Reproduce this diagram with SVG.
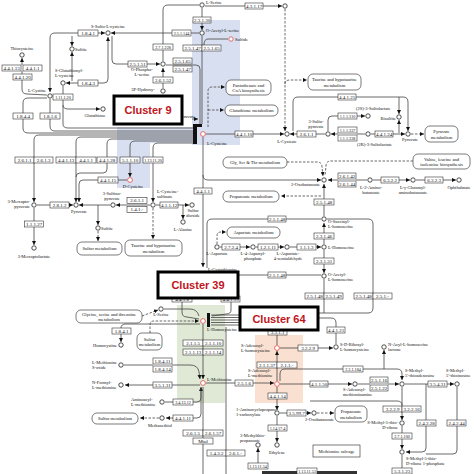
<svg xmlns="http://www.w3.org/2000/svg" width="474" height="474" viewBox="0 0 474 474">
<style>
.e{fill:#fff;stroke:#333;stroke-width:0.6}
.t{font-family:"Liberation Serif",serif;font-size:5px;text-anchor:middle;fill:#111}
.s{font-size:4.2px}
.c{fill:#fff;stroke:#222;stroke-width:0.8}
.r{fill:#fff;stroke:#e06060;stroke-width:0.9}
.lb{font-family:"Liberation Serif",serif;font-size:4.5px;fill:#111}
.m{text-anchor:middle}
.en{text-anchor:end}
.l{fill:none;stroke:#444;stroke-width:0.8}
.d{fill:none;stroke:#444;stroke-width:0.8;stroke-dasharray:2.5 1.5}
.mp{fill:#fff;stroke:#444;stroke-width:0.7}
.mt{font-family:"Liberation Serif",serif;font-size:4.6px;text-anchor:middle;fill:#111}
.cl{fill:#fff;stroke:#000;stroke-width:3}
.ct{font-family:"Liberation Sans",Arial,sans-serif;font-size:11px;font-weight:bold;fill:#c0141c;text-anchor:middle}
</style>
<defs>
<marker id="ar" viewBox="0 0 6 6" refX="6" refY="3" markerWidth="4" markerHeight="4" markerUnits="userSpaceOnUse" orient="auto"><path d="M0,0 L6,3 L0,6 z" fill="#111"/></marker>
</defs>
<rect width="474" height="474" fill="#fff"/>
<g id="highlights">
<rect x="192" y="20" width="48" height="125" fill="#d7dff0"/>
<rect x="117" y="127" width="85" height="16" fill="#d7dff0"/>
<rect x="117" y="127" width="33" height="61" fill="#d7dff0"/>
<rect x="177" y="305" width="48" height="98" fill="#dfe9d6"/>
<rect x="255" y="335" width="48" height="68" fill="#fae0d0"/>
</g>
<g id="connectors">
<path class="l" d="M22,65 L22,58" marker-end="url(#ar)"/>
<path class="l" d="M22,71 L22,74 M22,80 L22,89 Q22,94 27,94 L47,95"/>
<path class="l" d="M78,33 L55,33 Q50,33 50,38 L50,92" marker-end="url(#ar)"/>
<path class="l" d="M98,33 L105,33" marker-end="url(#ar)"/>
<path class="l" d="M50,99 L50,113 M50,119 L50,126 Q50,131 55,131 L193,131"/>
<path class="l" d="M47,98 L28,98 Q23,98 23,103 L23,113 M23,119 L23,128 Q23,133 28,133 L193,133"/>
<path class="l" d="M78,83 L66,83" marker-end="url(#ar)"/>
<path class="l" d="M98,83 L104,83 Q108,83 108,79 L108,37" marker-end="url(#ar)"/>
<path class="l" d="M72,36 L72,46" marker-end="url(#ar)"/>
<path class="l" d="M72,81 L72,52" marker-end="url(#ar)"/>
<path class="l" d="M63,86 L63,94 M63,100 L63,124 Q63,128 68,128 L193,128"/>
<path class="l" d="M63,105 Q63,109 68,109 L100,109" marker-end="url(#ar)"/>
<path class="l" d="M199,5 L168,5 Q163,5 163,10 L163,44 M163,50 L163,61"/>
<path class="l" d="M202,8 L202,17 M202,23 L202,30" marker-end="url(#ar)"/>
<path class="l" d="M205,6 L245,6 M263,6 L282,6" marker-end="url(#ar)"/>
<path class="d" d="M285,9 L285,131" marker-end="url(#ar)"/>
<path class="d" d="M285,84 Q285,80 290,80 L307,80" marker-end="url(#ar)"/>
<path class="l" d="M199,33 L191,33 M172,33 L111,33" marker-end="url(#ar)"/>
<path class="l" d="M112,36 L112,60 Q112,64 116,64 L128,64 M147,64 L160,64" marker-end="url(#ar)"/>
<path class="l" d="M202,36 L202,45 M202,51 L202,124"/>
<path class="l" d="M228,39 L208,39 Q204,39 204,45"/>
<path class="l" d="M166,65 L196,65 Q200,65 200,69 L200,124"/>
<path class="l" d="M163,77 L163,68" marker-end="url(#ar)"/>
<path class="l" d="M163,88 L163,83"/>
<path class="d" d="M208,127 L208,91 Q208,87 212,87 L225,87" marker-end="url(#ar)"/>
<path class="d" d="M208,110 L224,110" marker-end="url(#ar)"/>
<path class="l" d="M192,119 L198,119" marker-end="url(#ar)"/>
<path class="l" d="M206,134 L235,134 M253,134 L284,134" marker-end="url(#ar)"/>
<path class="l" d="M325,134 L316,134 M297,134 L290,134" marker-end="url(#ar)"/>
<path class="l" d="M328,131 L328,120 Q328,116 332,116 L338,116 M357,116 L365,116" marker-end="url(#ar)"/>
<path class="l" d="M365,134 L357,134 M338,134 L331,134" marker-end="url(#ar)"/>
<path class="l" d="M371,134 L375,134 M393,134 L405,134" marker-end="url(#ar)"/>
<path class="l" d="M293,131 L293,102 Q293,97 298,97 L338,97 M356,97 L403,97 Q408,97 408,102 L408,131" marker-end="url(#ar)"/>
<path class="l" d="M399,97 L399,114" marker-end="url(#ar)"/>
<path class="l" d="M399,133 L399,120" marker-end="url(#ar)"/>
<path class="d" d="M411,134 L424,134" marker-end="url(#ar)"/>
<path class="l" d="M34,157 L34,140 Q34,135 39,135 L193,135"/>
<path class="l" d="M76,157 L76,142 Q76,137 81,137 L193,137"/>
<path class="l" d="M107,157 L107,144 Q107,139 112,139 L193,139"/>
<path class="l" d="M130,157 L130,146 Q130,141 135,141 L193,141"/>
<path class="l" d="M153,157 L153,148 Q153,143 158,143 L193,143"/>
<path class="l" d="M34,163 L34,202" marker-end="url(#ar)"/>
<path class="l" d="M37,205 L50,205 M69,205 L73,205" marker-end="url(#ar)"/>
<path class="l" d="M76,163 L76,202" marker-end="url(#ar)"/>
<path class="l" d="M107,163 L107,169 Q107,173 103,173 L80,173 Q76,173 76,177"/>
<path class="l" d="M127,180 L118,180 M98,180 L83,180 Q79,180 79,184 L79,202" marker-end="url(#ar)"/>
<path class="l" d="M130,163 L130,177" marker-end="url(#ar)"/>
<path class="l" d="M153,163 L153,202" marker-end="url(#ar)"/>
<path class="l" d="M150,205 L116,205" marker-end="url(#ar)"/>
<path class="l" d="M110,205 L79,205" marker-end="url(#ar)"/>
<path class="l" d="M98,205 L98,225" marker-end="url(#ar)"/>
<path class="d" d="M98,231 L98,241" marker-end="url(#ar)"/>
<path class="d" d="M153,208 L153,239" marker-end="url(#ar)"/>
<path class="l" d="M34,208 L34,221 M34,227 L34,245" marker-end="url(#ar)"/>
<path class="l" d="M156,205 L160,205 M178,205 L189,205" marker-end="url(#ar)"/>
<path class="l" d="M183,205 L183,219" marker-end="url(#ar)"/>
<path class="l" d="M203,137 L203,188 M203,194 L203,267" marker-end="url(#ar)"/>
<path class="l" d="M203,175 Q203,180 208,180 L321,180" marker-end="url(#ar)"/>
<path class="l" d="M207,268 L207,224 Q207,219 212,219 L268,219 M286,219 L321,219 M327,219 L368,219 Q373,219 373,224 L373,293 M373,299 L373,308 Q373,313 368,313 L318,313"/>
<path class="l" d="M208,275 L268,275 M286,275 L321,275"/>
<path class="d" d="M287,162 L317,162 Q322,162 322,167 L323,176" marker-end="url(#ar)"/>
<path class="d" d="M413,161 L331,161 Q326,161 326,166 L325,176"/>
<path class="d" d="M321,196 L281,196" marker-end="url(#ar)"/>
<path class="l" d="M367,180 L356,180 M338,180 L328,180" marker-end="url(#ar)"/>
<path class="l" d="M373,180 L381,180 M399,180 L410,180" marker-end="url(#ar)"/>
<path class="l" d="M416,180 L425,180 M443,180 L456,180" marker-end="url(#ar)"/>
<path class="l" d="M324,199 L324,184" marker-end="url(#ar)"/>
<path class="l" d="M324,216 L324,205"/>
<path class="l" d="M324,233 L324,223" marker-end="url(#ar)"/>
<path class="l" d="M324,244 L324,239"/>
<path class="l" d="M324,250 L324,258 M324,264 L324,273" marker-end="url(#ar)"/>
<path class="l" d="M324,279 L324,293 M324,299 L324,313"/>
<path class="l" d="M220,247 L222,247 M240,247 L250,247" marker-end="url(#ar)"/>
<path class="l" d="M256,247 L258,247 M278,247 L284,247" marker-end="url(#ar)"/>
<path class="l" d="M290,247 L297,247 M316,247 L321,247" marker-end="url(#ar)"/>
<path class="d" d="M217,244 L217,236 Q217,232 221,232 L226,232" marker-end="url(#ar)"/>
<path class="d" d="M142,316 L158,310" marker-end="url(#ar)"/>
<path class="l" d="M164,309 L190,309 Q197,309 199,316"/>
<path class="d" d="M150,333 L150,325 Q150,321 154,321 L199,321" marker-end="url(#ar)"/>
<path class="l" d="M200,324 L126,324 Q121,324 121,328 M121,334 L121,342" marker-end="url(#ar)"/>
<path class="l" d="M182,302 L182,312 Q182,317 187,317 L199,319"/>
<path class="l" d="M231,302 L231,310 Q231,314 226,314 L212,316"/>
<path class="l" d="M240,315 L211,315 M240,317.5 L211,317.5 M240,320 L211,320 M240,322.5 L211,322.5 M240,325 L211,325"/>
<path class="l" d="M203,324 L203,340 M203,346 L203,349 M203,355 L203,379" marker-end="url(#ar)"/>
<path class="l" d="M124,365 L153,365 M172,365 L190,365 Q198,365 199,372 L200,379" marker-end="url(#ar)"/>
<path class="l" d="M200,385 L172,385 M153,385 L125,385" marker-end="url(#ar)"/>
<path class="l" d="M165,402 L173,402 M193,402 L197,402 Q201,402 201,398 L201,387" marker-end="url(#ar)"/>
<path class="d" d="M159,418 L140,418" marker-end="url(#ar)"/>
<path class="l" d="M201,388 L201,414 Q201,418 197,418 L193,418 M173,418 L166,418" marker-end="url(#ar)"/>
<path class="l" d="M203,387 L203,430 M203,436 L203,438 M203,444 L203,474"/>
<path class="l" d="M206,383 L235,383 M253,383 L274,383" marker-end="url(#ar)"/>
<path class="l" d="M226,327 L226,450 M226,456 L226,474"/>
<path class="l" d="M277,381 L277,368 M277,362 L277,351" marker-end="url(#ar)"/>
<path class="l" d="M277,345 L277,335"/>
<path class="l" d="M280,348 L298,348 M318,348 L333,348" marker-end="url(#ar)"/>
<path class="l" d="M318,318 L331,318 Q336,318 336,323 L336,327 M336,333 L336,344"/>
<path class="l" d="M280,381 L280,374 Q280,369 285,369 L343,369 M363,369 L397,369 Q402,369 402,374 L402,380" marker-end="url(#ar)"/>
<path class="l" d="M384,369 L384,350" marker-end="url(#ar)"/>
<path class="l" d="M310,401 L397,401 Q402,401 402,405"/>
<path class="l" d="M280,384 L310,384 M328,384 L352,384" marker-end="url(#ar)"/>
<path class="l" d="M358,384 L370,384 M388,384 L399,384" marker-end="url(#ar)"/>
<path class="l" d="M405,384 L428,384 M447,384 L454,384" marker-end="url(#ar)"/>
<path class="l" d="M402,387 L402,406 M402,412 L402,420" marker-end="url(#ar)"/>
<path class="l" d="M402,426 L402,433 M402,439 L402,449" marker-end="url(#ar)"/>
<path class="l" d="M402,455 L402,468"/>
<path class="l" d="M426,384 L426,420 M426,426 L426,448 Q426,452 422,452 L406,452" marker-end="url(#ar)"/>
<path class="l" d="M457,387 L457,420 M457,426 L457,450 Q457,454 453,454 L426,454"/>
<path class="l" d="M277,387 L277,393 M277,399 L277,410" marker-end="url(#ar)"/>
<path class="l" d="M277,416 L277,425 M277,431 L277,442" marker-end="url(#ar)"/>
<path class="l" d="M280,413 L287,413 M306,413 L311,413" marker-end="url(#ar)"/>
<path class="d" d="M317,413 L334,413" marker-end="url(#ar)"/>
<path class="l" d="M258,463 L258,448" marker-end="url(#ar)"/>
<rect x="193" y="124" width="4" height="20" fill="#111"/>
<rect x="193" y="124" width="9" height="3" fill="#111"/>
<rect x="207" y="313" width="3" height="14" fill="#111"/>
<rect x="262" y="471" width="95" height="4" fill="#333"/>
</g>
<g id="enzymes">
<g id="e01"><rect class="e" x="78" y="30" width="20" height="6"/><text class="t" x="88" y="34.7">1.8.4.1</text></g>
<g id="e02"><rect class="e" x="2" y="65" width="19" height="6"/><text class="t" x="11.5" y="69.7">4.4.1.13</text></g>
<g id="e03"><rect class="e" x="23" y="65" width="19" height="6"/><text class="t" x="32.5" y="69.7">4.4.1.1</text></g>
<g id="e04"><rect class="e" x="13" y="74" width="19" height="6"/><text class="t" x="22.5" y="78.7">4.4.1.20</text></g>
<g id="e05"><rect class="e" x="78" y="80" width="20" height="6"/><text class="t" x="88" y="84.7">1.8.4.3</text></g>
<g id="e06"><rect class="e" x="53" y="94" width="20" height="6"/><text class="t s" x="63" y="98.5">1.11.1.20</text></g>
<g id="e07"><rect class="e" x="13" y="113" width="20" height="6"/><text class="t" x="23" y="117.7">1.8.4.4</text></g>
<g id="e08"><rect class="e" x="40" y="113" width="20" height="6"/><text class="t" x="50" y="117.7">1.8.1.6</text></g>
<g id="e09"><rect class="e" x="128" y="61" width="19" height="6"/><text class="t" x="137.5" y="65.7">2.5.1.51</text></g>
<g id="e10"><rect class="e" x="153" y="44" width="20" height="6"/><text class="t s" x="163" y="48.5">2.7.1.228</text></g>
<g id="e11"><rect class="e" x="172" y="30" width="19" height="6"/><text class="t s" x="181.5" y="34.5">2.5.1.144</text></g>
<g id="e12"><rect class="e" x="193" y="17" width="18" height="6"/><text class="t" x="202" y="21.7">2.3.1.30</text></g>
<g id="e13"><rect class="e" x="183" y="45" width="19" height="6"/><text class="t" x="192.5" y="49.7">2.5.1.47</text></g>
<g id="e14"><rect class="e" x="202" y="45" width="19" height="6"/><text class="t" x="211.5" y="49.7">2.5.1.65</text></g>
<g id="e15"><rect class="e" x="173" y="58" width="19" height="6"/><text class="t" x="182.5" y="62.7">2.5.1.65</text></g>
<g id="e16"><rect class="e" x="173" y="66" width="19" height="6"/><text class="t" x="182.5" y="70.7">2.5.1.47</text></g>
<g id="e17"><rect class="e" x="153" y="77" width="20" height="6"/><text class="t" x="163" y="81.7">2.6.1.52</text></g>
<g id="e18"><rect class="e" x="245" y="3" width="18" height="6"/><text class="t" x="254" y="7.7">4.3.1.17</text></g>
<g id="e19"><rect class="e" x="235" y="131" width="18" height="6"/><text class="t" x="244" y="135.7">4.4.1.10</text></g>
<g id="e20"><rect class="e" x="297" y="131" width="19" height="6"/><text class="t" x="306.5" y="135.7">2.6.1.1</text></g>
<g id="e21"><rect class="e" x="338" y="94" width="18" height="6"/><text class="t" x="347" y="98.7">4.4.1.25</text></g>
<g id="e22"><rect class="e" x="338" y="113" width="19" height="6"/><text class="t s" x="347.5" y="117.5">1.1.1.310</text></g>
<g id="e23"><rect class="e" x="338" y="127" width="19" height="6"/><text class="t s" x="347.5" y="131.5">1.1.1.337</text></g>
<g id="e24"><rect class="e" x="338" y="135" width="19" height="6"/><text class="t s" x="347.5" y="139.5">1.1.1.338</text></g>
<g id="e25"><rect class="e" x="375" y="131" width="18" height="6"/><text class="t" x="384" y="135.7">4.4.1.24</text></g>
<g id="e26"><rect class="e" x="15" y="157" width="19" height="6"/><text class="t" x="24.5" y="161.7">2.6.1.1</text></g>
<g id="e27"><rect class="e" x="34" y="157" width="19" height="6"/><text class="t" x="43.5" y="161.7">2.6.1.3</text></g>
<g id="e28"><rect class="e" x="56" y="157" width="20" height="6"/><text class="t" x="66" y="161.7">4.4.1.13</text></g>
<g id="e29"><rect class="e" x="76" y="157" width="20" height="6"/><text class="t" x="86" y="161.7">4.4.1.1</text></g>
<g id="e30"><rect class="e" x="97" y="157" width="20" height="6"/><text class="t" x="107" y="161.7">4.4.1.28</text></g>
<g id="e31"><rect class="e" x="120" y="157" width="20" height="6"/><text class="t" x="130" y="161.7">5.1.1.10</text></g>
<g id="e32"><rect class="e" x="143" y="157" width="20" height="6"/><text class="t s" x="153" y="161.5">1.13.11.20</text></g>
<g id="e33"><rect class="e" x="98" y="177" width="20" height="6"/><text class="t" x="108" y="181.7">4.4.1.15</text></g>
<g id="e34"><rect class="e" x="50" y="202" width="19" height="6"/><text class="t" x="59.5" y="206.7">2.8.1.2</text></g>
<g id="e35"><rect class="e" x="127" y="197.5" width="20" height="6"/><text class="t" x="137" y="202.2">2.6.1.1</text></g>
<g id="e36"><rect class="e" x="127" y="206.5" width="20" height="6"/><text class="t" x="137" y="211.2">1.4.1.-</text></g>
<g id="e37"><rect class="e" x="160" y="202" width="18" height="6"/><text class="t" x="169" y="206.7">4.1.1.12</text></g>
<g id="e38"><rect class="e" x="24.5" y="221" width="19" height="6"/><text class="t" x="34" y="225.7">1.1.1.27</text></g>
<g id="e39"><rect class="e" x="194" y="188" width="18" height="6"/><text class="t" x="203" y="192.7">4.4.1.1</text></g>
<g id="e40"><rect class="e" x="338" y="173" width="18" height="6"/><text class="t" x="347" y="177.7">2.6.1.42</text></g>
<g id="e41"><rect class="e" x="338" y="181" width="18" height="6"/><text class="t" x="347" y="185.7">2.6.1.44</text></g>
<g id="e42"><rect class="e" x="381" y="177" width="18" height="6"/><text class="t" x="390" y="181.7">6.3.2.2</text></g>
<g id="e43"><rect class="e" x="425" y="177" width="18" height="6"/><text class="t" x="434" y="181.7">6.3.2.3</text></g>
<g id="e44"><rect class="e" x="314" y="199" width="20" height="6"/><text class="t" x="324" y="203.7">2.5.1.48</text></g>
<g id="e45"><rect class="e" x="268" y="216" width="18" height="6"/><text class="t" x="277" y="220.7">2.5.1.48</text></g>
<g id="e46"><rect class="e" x="314" y="233" width="20" height="6"/><text class="t" x="324" y="237.7">2.3.1.46</text></g>
<g id="e47"><rect class="e" x="222" y="244" width="18" height="6"/><text class="t" x="231" y="248.7">2.7.2.4</text></g>
<g id="e48"><rect class="e" x="258" y="244" width="20" height="6"/><text class="t" x="268" y="248.7">1.2.1.11</text></g>
<g id="e49"><rect class="e" x="297" y="244" width="19" height="6"/><text class="t" x="306.5" y="248.7">1.1.1.3</text></g>
<g id="e50"><rect class="e" x="314" y="258" width="20" height="6"/><text class="t" x="324" y="262.7">2.3.1.31</text></g>
<g id="e51"><rect class="e" x="268" y="272" width="18" height="6"/><text class="t" x="277" y="276.7">2.5.1.48</text></g>
<g id="e52"><rect class="e" x="305" y="293" width="19" height="6"/><text class="t" x="314.5" y="297.7">2.5.1.48</text></g>
<g id="e53"><rect class="e" x="324" y="293" width="19" height="6"/><text class="t" x="333.5" y="297.7">2.5.1.49</text></g>
<g id="e54"><rect class="e" x="354" y="293" width="19" height="6"/><text class="t" x="363.5" y="297.7">2.5.1.48</text></g>
<g id="e55"><rect class="e" x="373" y="293" width="19" height="6"/><text class="t" x="382.5" y="297.7">2.5.1.-</text></g>
<g id="e56"><rect class="e" x="172" y="296" width="20" height="6"/><text class="t" x="182" y="300.7">4.4.1.8</text></g>
<g id="e57"><rect class="e" x="221" y="296" width="19" height="6"/><text class="t" x="230.5" y="300.7">4.4.1.13</text></g>
<g id="e58"><rect class="e" x="112" y="328" width="19" height="6"/><text class="t" x="121.5" y="332.7">1.8.4.1</text></g>
<g id="e59"><rect class="e" x="183" y="340" width="20" height="6"/><text class="t" x="193" y="344.7">2.1.1.5</text></g>
<g id="e60"><rect class="e" x="203" y="340" width="20" height="6"/><text class="t" x="213" y="344.7">2.1.1.10</text></g>
<g id="e61"><rect class="e" x="183" y="349" width="20" height="6"/><text class="t" x="193" y="353.7">2.1.1.13</text></g>
<g id="e62"><rect class="e" x="203" y="349" width="20" height="6"/><text class="t" x="213" y="353.7">2.1.1.14</text></g>
<g id="e63"><rect class="e" x="153" y="358" width="19" height="6"/><text class="t" x="162.5" y="362.7">1.8.4.11</text></g>
<g id="e64"><rect class="e" x="153" y="366" width="19" height="6"/><text class="t" x="162.5" y="370.7">1.8.4.14</text></g>
<g id="e65"><rect class="e" x="153" y="382" width="19" height="6"/><text class="t" x="162.5" y="386.7">3.5.1.31</text></g>
<g id="e66"><rect class="e" x="173" y="399" width="20" height="6"/><text class="t s" x="183" y="403.5">3.4.13.12</text></g>
<g id="e67"><rect class="e" x="173" y="415" width="20" height="6"/><text class="t" x="183" y="419.7">4.4.1.11</text></g>
<g id="e68"><rect class="e" x="183" y="430" width="20" height="6"/><text class="t" x="193" y="434.7">2.6.1.5</text></g>
<g id="e69"><rect class="e" x="203" y="430" width="20" height="6"/><text class="t" x="213" y="434.7">2.6.1.57</text></g>
<g id="e70"><rect class="e" x="193" y="438" width="20" height="6"/><text class="t" x="203" y="442.7">Mtul</text></g>
<g id="e71"><rect class="e" x="207" y="450" width="19" height="6"/><text class="t" x="216.5" y="454.7">1.4.3.2</text></g>
<g id="e72"><rect class="e" x="226" y="450" width="19" height="6"/><text class="t" x="235.5" y="454.7">2.6.1.-</text></g>
<g id="e73"><rect class="e" x="248" y="463" width="20" height="6"/><text class="t s" x="258" y="467.5">1.13.11.54</text></g>
<g id="e74"><rect class="e" x="297" y="468" width="20" height="6"/><text class="t s" x="307" y="472.5">1.13.11.53</text></g>
<g id="e75"><rect class="e" x="268" y="329" width="19" height="6"/><text class="t" x="277.5" y="333.7">3.3.1.1</text></g>
<g id="e76"><rect class="e" x="298" y="345" width="20" height="6"/><text class="t" x="308" y="349.7">3.2.2.9</text></g>
<g id="e77"><rect class="e" x="327" y="327" width="18" height="6"/><text class="t" x="336" y="331.7">4.4.1.21</text></g>
<g id="e78"><rect class="e" x="257" y="362" width="20" height="6"/><text class="t" x="267" y="366.7">2.1.1.37</text></g>
<g id="e79"><rect class="e" x="277" y="362" width="20" height="6"/><text class="t" x="287" y="366.7">2.1.1.-</text></g>
<g id="e80"><rect class="e" x="235" y="380" width="18" height="6"/><text class="t" x="244" y="384.7">2.5.1.6</text></g>
<g id="e81"><rect class="e" x="343" y="366" width="20" height="6"/><text class="t s" x="353" y="370.5">2.3.1.184</text></g>
<g id="e82"><rect class="e" x="310" y="381" width="18" height="6"/><text class="t" x="319" y="385.7">4.1.1.50</text></g>
<g id="e83"><rect class="e" x="370" y="377" width="18" height="6"/><text class="t" x="379" y="381.7">2.5.1.16</text></g>
<g id="e84"><rect class="e" x="370" y="385" width="18" height="6"/><text class="t" x="379" y="389.7">2.5.1.22</text></g>
<g id="e85"><rect class="e" x="428" y="381" width="19" height="6"/><text class="t" x="437.5" y="385.7">3.5.4.31</text></g>
<g id="e86"><rect class="e" x="268" y="393" width="19" height="6"/><text class="t" x="277.5" y="397.7">4.4.1.14</text></g>
<g id="e87"><rect class="e" x="287" y="410" width="19" height="6"/><text class="t" x="296.5" y="414.7">3.5.99.7</text></g>
<g id="e88"><rect class="e" x="268" y="425" width="19" height="6"/><text class="t s" x="277.5" y="429.5">1.14.17.4</text></g>
<g id="e89"><rect class="e" x="383" y="406" width="19" height="6"/><text class="t" x="392.5" y="410.7">3.2.2.9</text></g>
<g id="e90"><rect class="e" x="402" y="406" width="19" height="6"/><text class="t" x="411.5" y="410.7">3.2.2.16</text></g>
<g id="e91"><rect class="e" x="392" y="433" width="20" height="6"/><text class="t s" x="402" y="437.5">2.7.1.100</text></g>
<g id="e92"><rect class="e" x="417" y="420" width="19" height="6"/><text class="t" x="426.5" y="424.7">2.4.2.28</text></g>
<g id="e93"><rect class="e" x="447" y="420" width="19" height="6"/><text class="t" x="456.5" y="424.7">2.4.2.44</text></g>
<g id="e94"><rect class="e" x="392" y="468" width="20" height="6"/><text class="t" x="402" y="472.7">5.3.1.23</text></g>
</g>
<g id="compounds">
<g id="c01"><circle class="c" cx="108" cy="33" r="2.2"/><text class="lb m" x="108" y="28">S-Sulfo-L-cysteine</text></g>
<g id="c02"><circle class="c" cx="72" cy="49" r="2.2"/><text class="lb" x="75" y="51">Sulfite</text></g>
<g id="c03"><circle class="c" cx="22" cy="55" r="2.2"/><text class="lb m" x="22" y="50">Thiocysteine</text></g>
<g id="c04"><circle class="c" cx="50" cy="96" r="2.2"/><text class="lb en" x="46" y="92">L-Cystine</text></g>
<g id="c05"><circle class="c" cx="63" cy="83" r="2.2"/><text class="lb" x="55" y="72">S-Glutathionyl-</text><text class="lb" x="55" y="77">L-cysteine</text></g>
<g id="c06"><circle class="c" cx="103" cy="109" r="2.2"/><text class="lb m" x="95" y="117">Glutathione</text></g>
<g id="c07"><circle class="c" cx="202" cy="5" r="2.2"/><text class="lb" x="206" y="4">L-Serine</text></g>
<g id="c08"><circle class="c" cx="285" cy="6" r="2.2"/></g>
<g id="c09"><circle class="c" cx="202" cy="33" r="2.2"/><text class="lb" x="206" y="32">O-Acetyl-L-serine</text></g>
<g id="c10"><circle class="r" cx="231" cy="39" r="2.2"/><text class="lb" x="235" y="41">Sulfide</text></g>
<g id="c11"><circle class="c" cx="163" cy="64" r="2.2"/><text class="lb m" x="142" y="71">O-Phospho-</text><text class="lb m" x="142" y="76">L-serine</text></g>
<g id="c12"><circle class="c" cx="163" cy="91" r="2.2"/><text class="lb m" x="143" y="91">3P-Hydroxy-</text><text class="lb m" x="187" y="118">pyruvate</text></g>
<g id="c13"><circle class="r" cx="203" cy="134" r="2.4"/><text class="lb" x="207" y="145">L-Cysteine</text></g>
<g id="c14"><circle class="c" cx="287" cy="134" r="2.2"/><text class="lb m" x="287" y="143">L-Cysteate</text></g>
<g id="c15"><circle class="c" cx="328" cy="134" r="2.2"/><text class="lb m" x="316" y="123">3-Sulfo-</text><text class="lb m" x="316" y="128">pyruvate</text></g>
<g id="c16"><circle class="c" cx="368" cy="116" r="2.2"/><text class="lb" x="356" y="110">(2S)-3-Sulfolactate</text></g>
<g id="c17"><circle class="c" cx="368" cy="134" r="2.2"/><text class="lb" x="357" y="146">(2R)-3-Sulfolactate</text></g>
<g id="c18"><circle class="c" cx="399" cy="117" r="2.2"/><text class="lb en" x="396" y="120">Bisulfite</text></g>
<g id="c19"><circle class="c" cx="408" cy="134" r="2.2"/><text class="lb m" x="410" y="140.5">Pyruvate</text></g>
<g id="c20"><circle class="r" cx="130" cy="180" r="2.4"/><text class="lb m" x="133" y="188">D-Cysteine</text></g>
<g id="c21"><circle class="c" cx="34" cy="205" r="2.2"/><text class="lb en" x="30" y="203">3-Mercapto-</text><text class="lb en" x="30" y="208">pyruvate</text></g>
<g id="c22"><circle class="c" cx="76" cy="205" r="2.2"/><text class="lb m" x="79" y="213">Pyruvate</text></g>
<g id="c23"><circle class="c" cx="113" cy="205" r="2.2"/><text class="lb m" x="112" y="195">3-Sulfino-</text><text class="lb m" x="112" y="200">pyruvate</text></g>
<g id="c24"><circle class="c" cx="153" cy="205" r="2.2"/><text class="lb" x="157" y="193">L-Cysteine-</text><text class="lb" x="157" y="198">sulfinate</text></g>
<g id="c25"><circle class="c" cx="192" cy="205" r="2.2"/><text class="lb m" x="193" y="212">Sulfur</text><text class="lb m" x="193" y="217">dioxide</text></g>
<g id="c26"><circle class="c" cx="183" cy="222" r="2.2"/><text class="lb m" x="183" y="231">L-Alanine</text></g>
<g id="c27"><circle class="c" cx="98" cy="228" r="2.2"/><text class="lb" x="101" y="230">Sulfite</text></g>
<g id="c28"><circle class="c" cx="34" cy="248" r="2.2"/><text class="lb m" x="34" y="258">3-Mercaptolactate</text></g>
<g id="c29"><circle class="c" cx="324" cy="180" r="2.2"/><text class="lb en" x="320" y="186">2-Oxobutanoate</text></g>
<g id="c30"><circle class="c" cx="370" cy="180" r="2.2"/><text class="lb m" x="371" y="189">L-2-Amino-</text><text class="lb m" x="371" y="194">butanoate</text></g>
<g id="c31"><circle class="c" cx="413" cy="180" r="2.2"/><text class="lb m" x="413" y="189">L-γ-Glutamyl-</text><text class="lb m" x="413" y="194">aminobutanoate</text></g>
<g id="c32"><circle class="c" cx="459" cy="180" r="2.2"/><text class="lb m" x="459" y="189">Ophthalmate</text></g>
<g id="c33"><circle class="c" cx="324" cy="219" r="2.2"/><text class="lb" x="328" y="223">O-Succinyl-</text><text class="lb" x="328" y="228">L-homoserine</text></g>
<g id="c34"><circle class="c" cx="324" cy="247" r="2.2"/><text class="lb" x="328" y="249">L-Homoserine</text></g>
<g id="c35"><circle class="c" cx="324" cy="276" r="2.2"/><text class="lb" x="328" y="276">O-Acetyl-</text><text class="lb" x="328" y="281">L-homoserine</text></g>
<g id="c36"><circle class="c" cx="217" cy="247" r="2.2"/><text class="lb m" x="217" y="255">L-Aspartate</text></g>
<g id="c37"><circle class="c" cx="253" cy="247" r="2.2"/><text class="lb m" x="253" y="255">L-4-Aspartyl-</text><text class="lb m" x="253" y="260">phosphate</text></g>
<g id="c38"><circle class="c" cx="287" cy="247" r="2.2"/><text class="lb m" x="288" y="255">L-Aspartate-</text><text class="lb m" x="288" y="260">4-semialdehyde</text></g>
<g id="c38b"><text class="lb" x="208" y="271">L-Cystathionine</text></g>
<g id="c39"><circle class="c" cx="161" cy="309" r="2.2"/><text class="lb m" x="161" y="316">L-Serine</text></g>
<g id="c40"><circle class="r" cx="203" cy="321" r="2.4"/><text class="lb" x="207" y="331">L-Homocysteine</text></g>
<g id="c41"><circle class="c" cx="121" cy="345" r="2.2"/><text class="lb en" x="117" y="347">Homocystine</text></g>
<g id="c42"><circle class="c" cx="121" cy="365" r="2.2"/><text class="lb" x="92" y="364">L-Methionine</text><text class="lb" x="92" y="369">S-oxide</text></g>
<g id="c43"><circle class="c" cx="121" cy="385" r="2.2"/><text class="lb" x="92" y="384">N-Formyl-</text><text class="lb" x="92" y="389">L-methionine</text></g>
<g id="c44"><circle class="c" cx="162" cy="402" r="2.2"/><text class="lb" x="131" y="401">Aminoacyl-</text><text class="lb" x="131" y="406">L-methionine</text></g>
<g id="c45"><circle class="c" cx="162" cy="418" r="2.2"/><text class="lb m" x="160" y="427">Methanethiol</text></g>
<g id="c46"><circle class="r" cx="203" cy="383" r="2.4"/><text class="lb" x="207" y="381">L-Methionine</text></g>
<g id="c47"><circle class="r" cx="277" cy="348" r="2.4"/><text class="lb" x="241" y="347">S-Adenosyl-</text><text class="lb" x="241" y="352">L-homocysteine</text></g>
<g id="c48"><circle class="c" cx="336" cy="347" r="2.2"/><text class="lb" x="340" y="346">S-D-Ribosyl-</text><text class="lb" x="340" y="351">L-homocysteine</text></g>
<g id="c49"><circle class="c" cx="384" cy="347" r="2.2"/><text class="lb" x="388" y="346">N-Acyl-L-homoserine</text><text class="lb" x="388" y="351">lactone</text></g>
<g id="c50"><circle class="r" cx="277" cy="384" r="2.4"/><text class="lb" x="248" y="372">S-Adenosyl-</text><text class="lb" x="248" y="377">L-methionine</text></g>
<g id="c51"><circle class="c" cx="355" cy="384" r="2.2"/><text class="lb" x="343" y="391">S-Adenosyl-</text><text class="lb" x="343" y="396">methioninamine</text></g>
<g id="c52"><circle class="c" cx="402" cy="384" r="2.2"/><text class="lb" x="405" y="372">S-Methyl-</text><text class="lb" x="405" y="377">5'-thioadenosine</text></g>
<g id="c53"><circle class="c" cx="457" cy="384" r="2.2"/><text class="lb" x="446" y="372">S-Methyl-</text><text class="lb" x="446" y="377">5'-thioinosine</text></g>
<g id="c54"><circle class="c" cx="402" cy="423" r="2.2"/><text class="lb en" x="398" y="424">S-Methyl-5-thio-</text><text class="lb en" x="398" y="429">D-ribose</text></g>
<g id="c55"><circle class="c" cx="402" cy="452" r="2.2"/><text class="lb" x="406" y="460">S-Methyl-5-thio-</text><text class="lb" x="406" y="465">D-ribose 1-phosphate</text></g>
<g id="c56"><circle class="c" cx="277" cy="413" r="2.2"/><text class="lb" x="236" y="411">1-Aminocyclopropane-</text><text class="lb" x="236" y="416">1-carboxylate</text></g>
<g id="c57"><circle class="c" cx="314" cy="413" r="2.2"/><text class="lb" x="305" y="421">2-Oxobutanoate</text></g>
<g id="c58"><circle class="c" cx="277" cy="445" r="2.2"/><text class="lb m" x="277" y="454">Ethylene</text></g>
<g id="c59"><circle class="c" cx="258" cy="445" r="2.2"/><text class="lb" x="240" y="437">3-Methylthio-</text><text class="lb" x="240" y="442">propanoate</text></g>
</g>
<g id="maps">
<g id="m01"><rect class="mp" x="226" y="80" width="45" height="15" rx="5"/><text class="mt" x="248.5" y="86.5">Pantothenate and</text><text class="mt" x="248.5" y="91.5">CoA biosynthesis</text></g>
<g id="m02"><rect class="mp" x="225" y="105" width="53" height="11" rx="5"/><text class="mt" x="251.5" y="112">Glutathione metabolism</text></g>
<g id="m03"><rect class="mp" x="308" y="74" width="53" height="16" rx="5"/><text class="mt" x="334.5" y="81">Taurine and hypotaurine</text><text class="mt" x="334.5" y="86.5">metabolism</text></g>
<g id="m04"><rect class="mp" x="425" y="126" width="33" height="16" rx="5"/><text class="mt" x="441.5" y="133">Pyruvate</text><text class="mt" x="441.5" y="138.5">metabolism</text></g>
<g id="m05"><rect class="mp" x="413" y="154" width="57" height="15" rx="5"/><text class="mt" x="441.5" y="160.5">Valine, leucine and</text><text class="mt" x="441.5" y="166">isoleucine biosynthesis</text></g>
<g id="m06"><rect class="mp" x="223" y="157" width="64" height="11" rx="5"/><text class="mt" x="255" y="164">Gly, Ser &amp; Thr metabolism</text></g>
<g id="m07"><rect class="mp" x="223" y="191" width="56" height="11" rx="5"/><text class="mt" x="251" y="198">Propanoate metabolism</text></g>
<g id="m08"><rect class="mp" x="77" y="242" width="45" height="13" rx="5"/><text class="mt" x="99.5" y="250">Sulfur metabolism</text></g>
<g id="m09"><rect class="mp" x="125" y="240" width="57" height="16" rx="5"/><text class="mt" x="153.5" y="247">Taurine and hypotaurine</text><text class="mt" x="153.5" y="252.5">metabolism</text></g>
<g id="m10"><rect class="mp" x="227" y="227" width="53" height="11" rx="5"/><text class="mt" x="253.5" y="234">Aspartate metabolism</text></g>
<g id="m11"><rect class="mp" x="76" y="310" width="66" height="13" rx="5"/><text class="mt" x="109" y="315.5">Glycine, serine and threonine</text><text class="mt" x="109" y="320.5">metabolism</text></g>
<g id="m12"><rect class="mp" x="137" y="333" width="25" height="17" rx="5"/><text class="mt" x="149.5" y="340.5">Sulfur</text><text class="mt" x="149.5" y="346">metabolism</text></g>
<g id="m13"><rect class="mp" x="92" y="413" width="46" height="11" rx="5"/><text class="mt" x="115" y="420">Sulfur metabolism</text></g>
<g id="m14"><rect class="mp" x="335" y="406" width="32" height="16" rx="5"/><text class="mt" x="351" y="413">Propanoate</text><text class="mt" x="351" y="418.5">metabolism</text></g>
<g id="m15"><rect class="mp" x="313" y="445" width="47" height="12"/><text class="mt" x="336.5" y="452.5">Methionine salvage</text></g>
</g>
<g id="clusters">
<g id="cluster9"><rect class="cl" x="114" y="96" width="68" height="28"/><text class="ct" x="148" y="114">Cluster 9</text></g>
<g id="cluster39"><rect class="cl" x="158" y="272" width="80" height="26"/><text class="ct" x="198" y="289">Cluster 39</text></g>
<g id="cluster64"><rect class="cl" x="240" y="307" width="78" height="23"/><text class="ct" x="279" y="322.5">Cluster 64</text></g>
</g>
</svg>
